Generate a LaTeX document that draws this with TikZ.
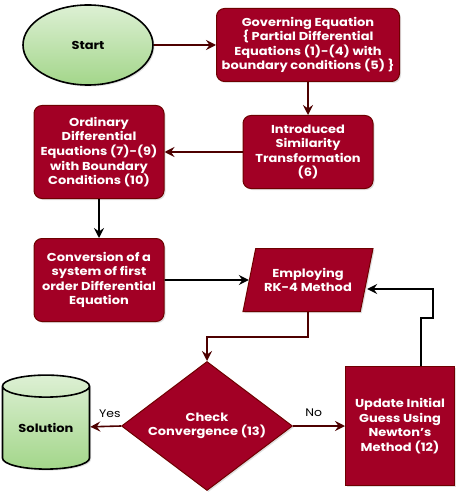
\documentclass[tikz,border=0pt]{standalone}
\usepackage{fontspec}
\setmainfont{Poppins}[FakeStretch=1.13]
\usetikzlibrary{shapes.geometric,arrows.meta,shadows}
\definecolor{boxred}{HTML}{A20025}
\definecolor{boxline}{HTML}{6F0000}
\definecolor{arrowred}{HTML}{4D0000}
\definecolor{greentop}{HTML}{DDF0D4}
\definecolor{greenbot}{HTML}{A3D68A}
\tikzset{
 boxshadow/.style={drop shadow={opacity=0.25, shadow xshift=1.5pt, shadow yshift=-1.5pt}},
 redbox/.style={draw=boxline, line width=1pt, fill=boxred, text=white, align=center,
  inner sep=1pt, font=\bfseries\fontsize{11.5}{14.6}\selectfont, boxshadow},
 roundbox/.style={redbox, rectangle, rounded corners=8pt},
 greenshape/.style={draw=black, line width=1.6pt, top color=greentop, bottom color=greenbot,
  font=\bfseries\fontsize{11.5}{14}\selectfont, boxshadow},
 redarrow/.style={draw=arrowred, line width=1.6pt, -{Stealth[length=10pt,width=10pt,inset=3.5pt]}},
 blackarrow/.style={draw=black, line width=1.6pt, -{Stealth[length=10pt,width=10pt,inset=3.5pt]}},
 edgetext/.style={above=5pt, font=\fontsize{11}{13}\selectfont, text=black}
}
\begin{document}
\begin{tikzpicture}[x=1pt, y=-1pt]
 \useasboundingbox (0,0) rectangle (462,500);

 \node[greenshape, ellipse, minimum width=130pt, minimum height=80pt, inner sep=0pt] (start) at (88,45) {Start};
 \node[roundbox, minimum width=183pt, minimum height=73pt] (gov) at (308,45)
  {Governing Equation\\ \{ Partial Differential\\ Equations (1)-(4) with\\ boundary conditions (5) \}};
 \node[roundbox, minimum width=130pt, minimum height=73pt] (sim) at (308,152)
  {Introduced\\ Similarity\\ Transformation\\ (6)};
 \node[roundbox, minimum width=130pt, minimum height=93pt] (ode) at (99,152)
  {Ordinary\\ Differential\\ Equations (7)-(9)\\ with Boundary\\ Conditions (10)};
 \node[roundbox, minimum width=130pt, minimum height=83pt] (conv) at (99,280)
  {Conversion of a\\ system of first\\ order Differential\\ Equation};
 \node[redbox, trapezium, trapezium left angle=62, trapezium right angle=118,
  trapezium stretches body, minimum width=130pt, minimum height=63pt, inner sep=0pt] (rk) at (308,280)
  {Employing\\ RK-4 Method};
 \node[redbox, diamond, aspect=1.33, minimum width=171pt, minimum height=129pt, inner sep=0pt] (conv13) at (207,426)
  {Check\\ Convergence (13)};
 \node[redbox, rectangle, minimum width=109pt, minimum height=119pt, inner sep=0pt] (newton) at (400,426)
  {Update Initial\\ Guess Using\\ Newton's\\ Method (12)};
 \node[greenshape, cylinder, shape border rotate=90, aspect=0.4, minimum width=87pt, minimum height=94pt, inner sep=0pt] (sol) at (46,428)
  {Solution};

 \draw[redarrow] (start) -- (gov);
 \draw[redarrow] (gov) -- (sim);
 \draw[redarrow] (sim) -- (ode);
 \draw[blackarrow] (ode) -- (conv);
 \draw[blackarrow] (conv) -- (rk);
 \draw[redarrow] (rk.south) -- ++(0,25) -| (conv13.north);
 \draw[redarrow] (conv13.west) -- node[edgetext, pos=0.36] {Yes} (sol);
 \draw[redarrow] (conv13.east) -- node[edgetext, pos=0.4] {No} (newton.west);
 \draw[blackarrow] ([xshift=21pt]newton.north) -- ++(0,-48) -- ++(12,0) |- ([yshift=-9pt]rk.east);
\end{tikzpicture}
\end{document}
